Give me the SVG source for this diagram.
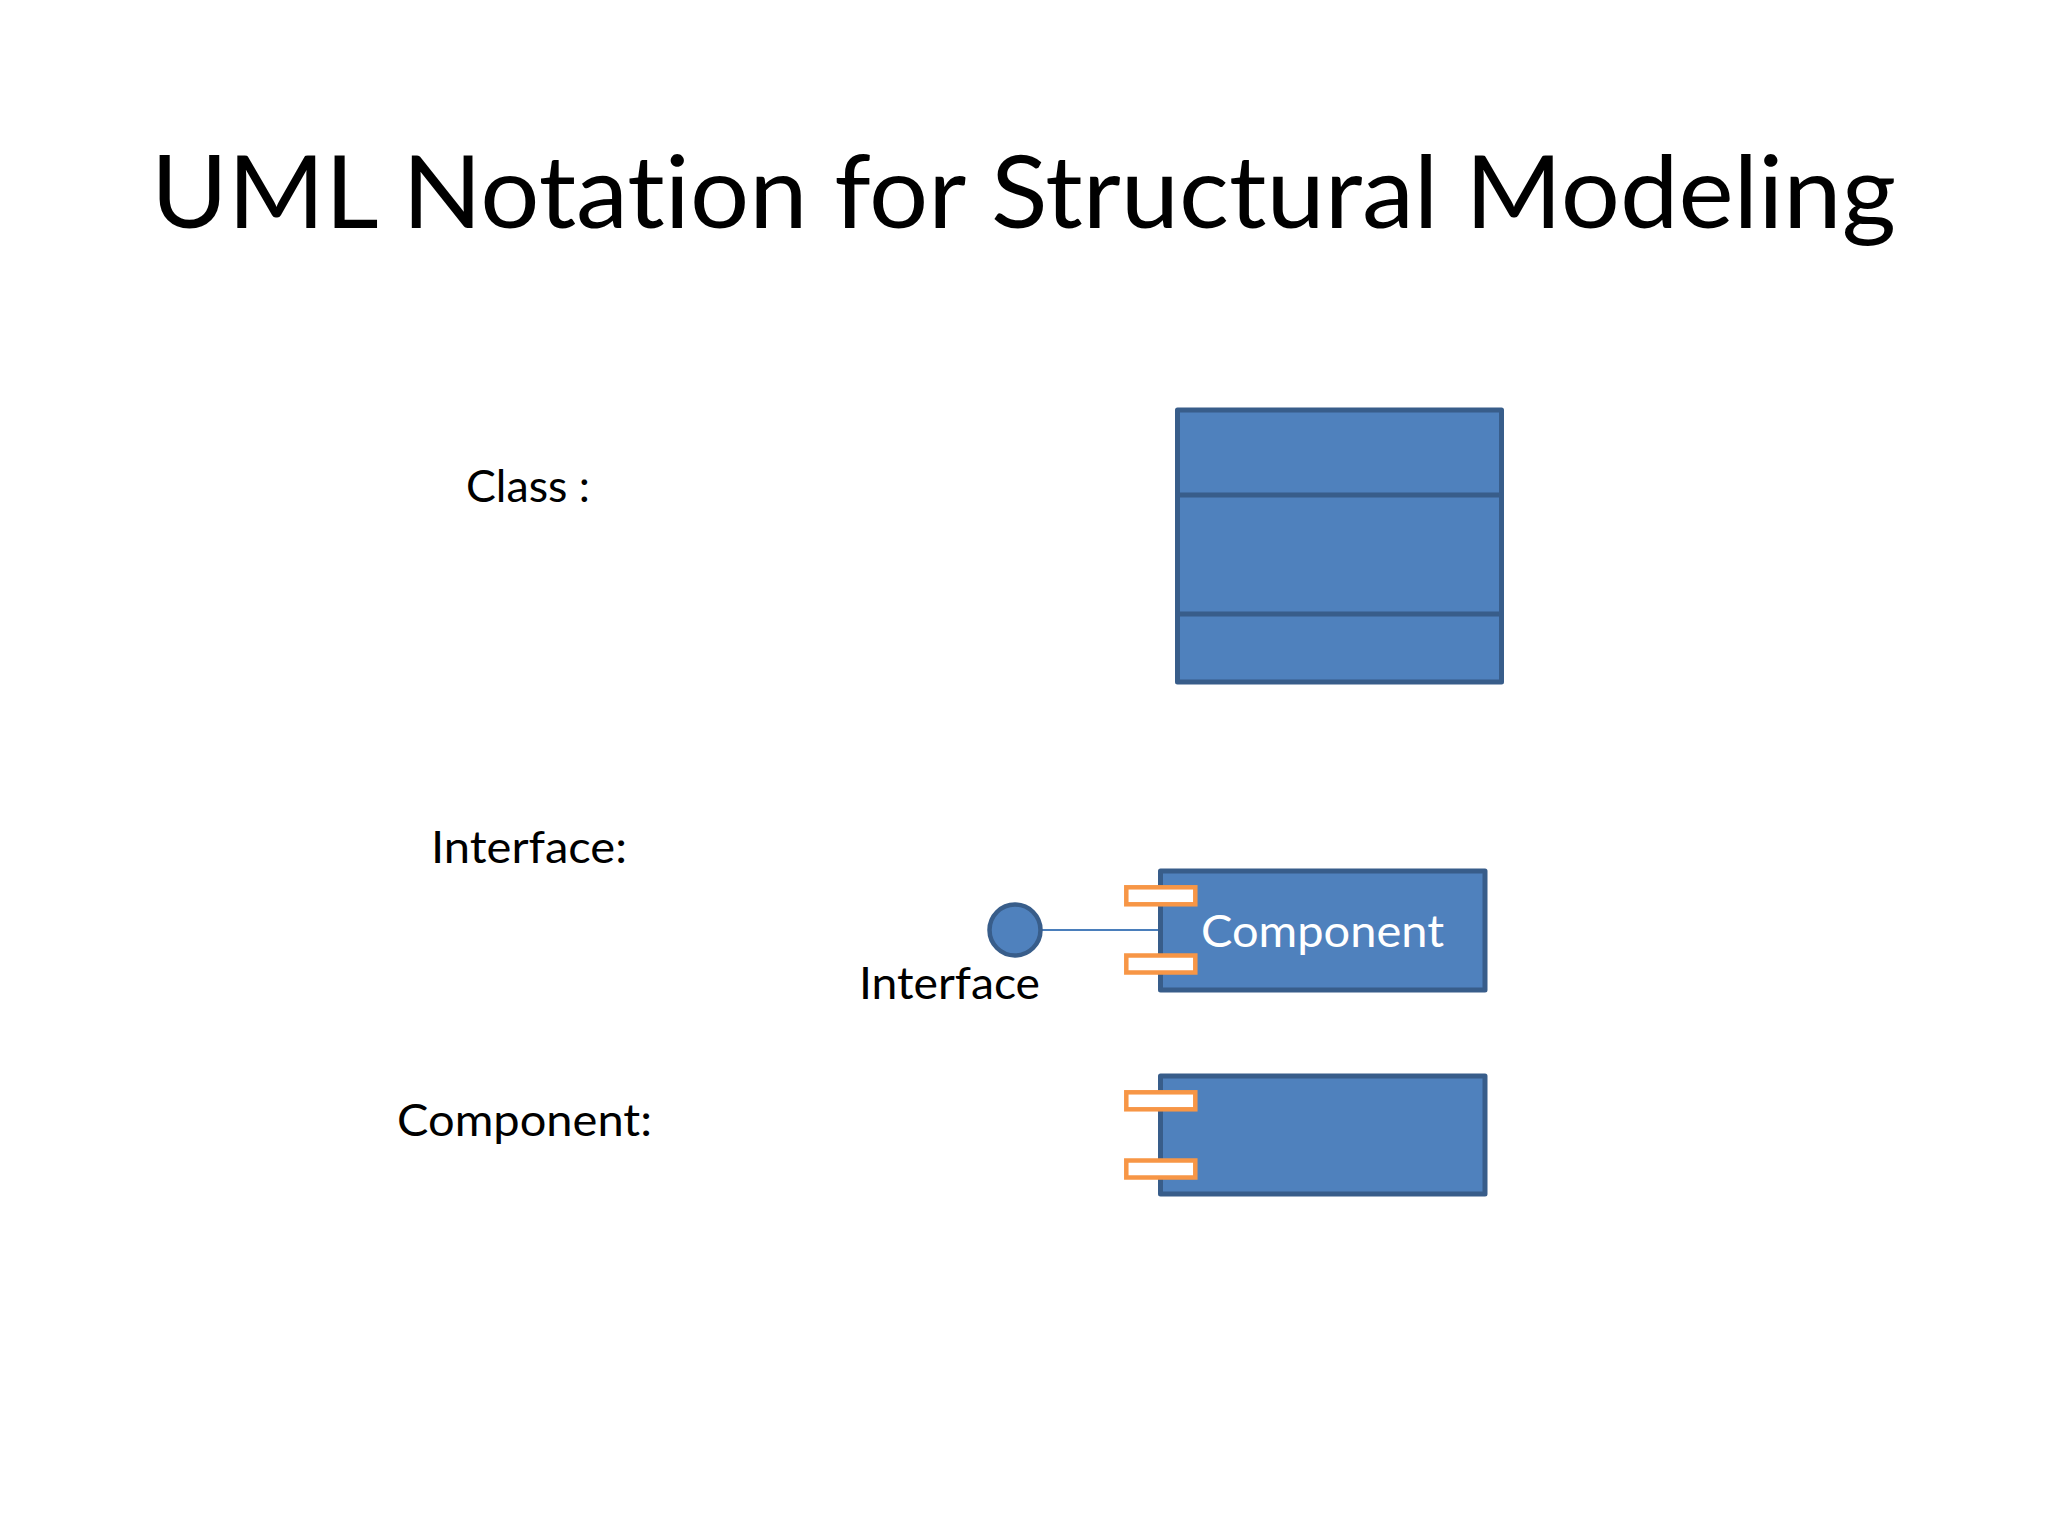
<svg xmlns="http://www.w3.org/2000/svg" width="2048" height="1536" viewBox="0 0 2048 1536">
<style>
.box{fill:#4F81BD;stroke:#385D8A;stroke-width:5;stroke-linejoin:round}
.div{stroke:#385D8A;stroke-width:5}
.port{fill:#FFFFFF;stroke:#F79646;stroke-width:4.5}
.lbl{font-family:Lato,"Open Sans","Liberation Sans",sans-serif;font-size:45px;fill:#000000;font-variant-ligatures:none}
.title{font-family:Lato,"Open Sans","Liberation Sans",sans-serif;font-size:100px;fill:#000000;font-variant-ligatures:none}
.conn{stroke:#4A7EBB;stroke-width:2;fill:none}
</style>
<rect width="2048" height="1536" fill="#FFFFFF"/>
<g id="title">
<text class="title" x="151" y="228" textLength="1745" lengthAdjust="spacingAndGlyphs">UML Notation for Structural Modeling</text>
</g>
<g id="label-class">
<text class="lbl" x="466" y="502" textLength="124" lengthAdjust="spacingAndGlyphs">Class :</text>
</g>
<g id="label-interface">
<text class="lbl" x="431" y="863" textLength="196" lengthAdjust="spacingAndGlyphs">Interface:</text>
</g>
<g id="label-component">
<text class="lbl" x="397" y="1136" textLength="255" lengthAdjust="spacingAndGlyphs">Component:</text>
</g>
<g id="class-node">
<rect class="box" x="1177.5" y="410" width="324" height="272"/>
<line class="div" x1="1177.5" y1="495" x2="1501.5" y2="495"/>
<line class="div" x1="1177.5" y1="614" x2="1501.5" y2="614"/>
</g>
<g id="connectors">
<line class="conn" x1="1042" y1="930" x2="1160" y2="930"/>
</g>
<g id="interface-node">
<circle cx="1015" cy="930" r="25.5" fill="#4F81BD" stroke="#385D8A" stroke-width="4.5"/>
<text class="lbl" x="859" y="999" textLength="181" lengthAdjust="spacingAndGlyphs">Interface</text>
</g>
<g id="component-node-1">
<rect class="box" x="1160.5" y="871" width="324.5" height="119"/>
<rect class="port" x="1126.3" y="887.3" width="69" height="17"/>
<rect class="port" x="1126.3" y="955.5" width="69" height="17"/>
<text class="lbl" x="1201" y="947" textLength="243" lengthAdjust="spacingAndGlyphs" style="fill:#FFFFFF">Component</text>
</g>
<g id="component-node-2">
<rect class="box" x="1160.5" y="1076" width="324.5" height="118"/>
<rect class="port" x="1126.3" y="1092.3" width="69" height="17"/>
<rect class="port" x="1126.3" y="1160.5" width="69" height="17"/>
</g>
</svg>
